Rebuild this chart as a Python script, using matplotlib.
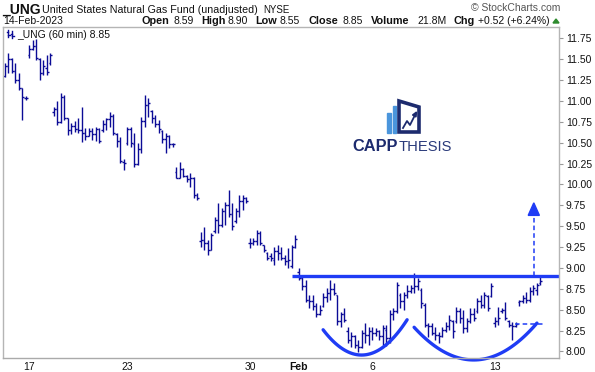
import matplotlib
matplotlib.use("Agg")
import matplotlib.pyplot as plt
from matplotlib.patches import Polygon, Rectangle
from matplotlib.lines import Line2D
import numpy as np

plt.rcParams['font.family'] = ['Liberation Sans', 'DejaVu Sans']

# _UNG 60 min bars, 7 bars per session
sessions = ['Jan 13', 'Jan 17', 'Jan 18', 'Jan 19', 'Jan 20', 'Jan 23', 'Jan 24',
            'Jan 25', 'Jan 26', 'Jan 27', 'Jan 30', 'Jan 31', 'Feb 1', 'Feb 2',
            'Feb 3', 'Feb 6', 'Feb 7', 'Feb 8', 'Feb 9', 'Feb 10', 'Feb 13', 'Feb 14']
tick_sessions = ['Jan 17', 'Jan 23', 'Jan 30', 'Feb 1', 'Feb 6', 'Feb 13']
tick_labels = ['17', '23', '30', 'Feb', '6', '13']

opens = [11.30, 11.42, 11.50, 11.36, 11.25, 11.16, 11.03,
         11.55, 11.62, 11.66, 11.50, 11.33, 11.40, 11.45,
         10.87, 10.90, 10.75, 11.05, 10.80, 10.65, 10.70,
         10.66, 10.65, 10.62, 10.58, 10.64, 10.60, 10.66,
         10.65, 10.72, 10.78, 10.82, 10.60, 10.52, 10.27,
         10.50, 10.66, 10.48, 10.24, 10.42, 10.76, 10.95,
         10.88, 10.80, 10.72, 10.64, 10.55, 10.58, 10.48,
         10.15, 10.08, 10.18, 10.10, 10.06, 10.08, 9.88,
         9.32, 9.33, 9.30, 9.22, 9.44, 9.58, 9.52,
         9.68, 9.75, 9.65, 9.56, 9.68, 9.80, 9.84,
         9.30, 9.30, 9.32, 9.42, 9.28, 9.18, 9.14,
         9.10, 9.20, 9.18, 9.12, 9.08, 9.02, 9.25,
         8.95, 8.88, 8.78, 8.62, 8.60, 8.55, 8.45,
         8.55, 8.65, 8.70, 8.75, 8.68, 8.36, 8.45,
         8.25, 8.14, 8.18, 8.08, 8.05, 8.22, 8.20,
         8.24, 8.22, 8.24, 8.18, 8.26, 8.16, 8.45,
         8.48, 8.68, 8.60, 8.68, 8.72, 8.76, 8.78,
         8.74, 8.56, 8.32, 8.30, 8.22, 8.20, 8.18,
         8.26, 8.30, 8.36, 8.36, 8.48, 8.40, 8.28,
         8.36, 8.45, 8.48, 8.60, 8.56, 8.66, 8.66,
         8.34, 8.36, 8.48, 8.50, 8.36, 8.32, 8.30,
         8.59, 8.60, 8.64, 8.62, 8.72, 8.74, 8.82]
highs = [11.46, 11.58, 11.52, 11.45, 11.34, 11.16, 11.06,
         11.67, 11.73, 11.74, 11.52, 11.49, 11.55, 11.57,
         10.93, 11.00, 11.10, 11.07, 10.80, 10.74, 10.76,
         10.80, 10.93, 10.68, 10.68, 10.68, 10.69, 10.68,
         10.77, 10.80, 10.87, 10.84, 10.62, 10.57, 10.30,
         10.69, 10.69, 10.62, 10.50, 10.81, 11.07, 11.04,
         10.89, 10.83, 10.77, 10.65, 10.62, 10.59, 10.50,
         10.21, 10.27, 10.20, 10.11, 10.14, 10.09, 9.90,
         9.43, 9.49, 9.34, 9.42, 9.61, 9.78, 9.72,
         9.79, 9.93, 9.78, 9.72, 9.87, 9.87, 9.85,
         9.36, 9.36, 9.46, 9.44, 9.28, 9.19, 9.18,
         9.25, 9.28, 9.25, 9.16, 9.24, 9.28, 9.40,
         9.00, 8.92, 8.86, 8.68, 8.68, 8.58, 8.56,
         8.70, 8.76, 8.86, 8.82, 8.68, 8.47, 8.52,
         8.29, 8.23, 8.20, 8.14, 8.26, 8.34, 8.29,
         8.29, 8.28, 8.26, 8.32, 8.32, 8.50, 8.52,
         8.83, 8.70, 8.71, 8.80, 8.80, 8.94, 8.88,
         8.76, 8.58, 8.34, 8.34, 8.29, 8.23, 8.29,
         8.35, 8.44, 8.38, 8.53, 8.52, 8.50, 8.40,
         8.52, 8.52, 8.64, 8.68, 8.71, 8.68, 8.82,
         8.41, 8.53, 8.52, 8.59, 8.38, 8.35, 8.35,
         8.62, 8.68, 8.71, 8.77, 8.80, 8.82, 8.90]
lows = [11.29, 11.34, 11.33, 11.21, 11.13, 10.77, 11.01,
        11.52, 11.61, 11.49, 11.25, 11.31, 11.31, 11.43,
        10.82, 10.71, 10.74, 10.77, 10.59, 10.60, 10.63,
        10.62, 10.51, 10.53, 10.58, 10.53, 10.52, 10.50,
        10.63, 10.65, 10.69, 10.59, 10.45, 10.26, 10.17,
        10.47, 10.45, 10.21, 10.23, 10.38, 10.69, 10.81,
        10.74, 10.69, 10.62, 10.50, 10.38, 10.44, 10.45,
        10.08, 10.08, 10.09, 10.03, 9.97, 9.84, 9.81,
        9.25, 9.22, 9.16, 9.22, 9.42, 9.42, 9.49,
        9.52, 9.61, 9.46, 9.54, 9.61, 9.69, 9.78,
        9.24, 9.28, 9.28, 9.28, 9.19, 9.10, 9.08,
        9.04, 9.10, 9.10, 9.04, 9.00, 9.00, 9.24,
        8.86, 8.74, 8.59, 8.52, 8.50, 8.41, 8.44,
        8.53, 8.59, 8.62, 8.68, 8.32, 8.29, 8.35,
        8.10, 8.05, 8.04, 7.99, 8.04, 8.10, 8.08,
        8.14, 8.19, 8.14, 8.08, 8.07, 8.10, 8.38,
        8.46, 8.52, 8.50, 8.64, 8.70, 8.70, 8.74,
        8.52, 8.29, 8.17, 8.20, 8.14, 8.10, 8.17,
        8.23, 8.26, 8.16, 8.34, 8.34, 8.22, 8.23,
        8.34, 8.36, 8.46, 8.52, 8.52, 8.48, 8.65,
        8.29, 8.32, 8.46, 8.38, 8.29, 8.14, 8.29,
        8.55, 8.58, 8.58, 8.59, 8.68, 8.68, 8.80]
closes = [11.42, 11.50, 11.36, 11.25, 11.16, 11.05, 11.04,
          11.62, 11.66, 11.52, 11.33, 11.42, 11.35, 11.55,
          10.90, 10.75, 11.05, 10.80, 10.65, 10.70, 10.66,
          10.65, 10.62, 10.58, 10.64, 10.60, 10.66, 10.52,
          10.72, 10.78, 10.82, 10.62, 10.52, 10.28, 10.26,
          10.66, 10.50, 10.24, 10.42, 10.76, 10.95, 10.98,
          10.80, 10.72, 10.66, 10.55, 10.58, 10.48, 10.49,
          10.08, 10.18, 10.10, 10.06, 10.08, 9.88, 9.84,
          9.33, 9.30, 9.22, 9.40, 9.58, 9.52, 9.68,
          9.75, 9.65, 9.50, 9.68, 9.80, 9.84, 9.80,
          9.30, 9.32, 9.42, 9.30, 9.22, 9.12, 9.12,
          9.20, 9.18, 9.12, 9.08, 9.10, 9.25, 9.35,
          8.88, 8.78, 8.62, 8.60, 8.55, 8.45, 8.50,
          8.65, 8.70, 8.75, 8.70, 8.36, 8.45, 8.38,
          8.14, 8.18, 8.08, 8.05, 8.22, 8.20, 8.24,
          8.22, 8.24, 8.18, 8.28, 8.16, 8.45, 8.48,
          8.80, 8.60, 8.68, 8.72, 8.76, 8.78, 8.85,
          8.58, 8.32, 8.30, 8.22, 8.20, 8.18, 8.26,
          8.30, 8.38, 8.24, 8.48, 8.40, 8.28, 8.36,
          8.45, 8.40, 8.60, 8.56, 8.68, 8.52, 8.78,
          8.36, 8.40, 8.50, 8.40, 8.32, 8.30, 8.33,
          8.60, 8.64, 8.62, 8.72, 8.76, 8.80, 8.85]

# pattern drawn on the chart (bar index, price)
neckline = 8.90
left_cup = [(90.9, 8.26), (102.9, 7.96), (114.9, 8.38)]
right_cup = [(116.9, 8.29), (134.9, 7.90), (152.0, 8.34)]
handle_level = 8.33
target = 9.78

BAR = '#0b0b96'
MARK = '#1f3cf5'
W, H = 595, 372

fig = plt.figure(figsize=(W / 100, H / 100), dpi=100)
ax = fig.add_axes([3 / W, 14 / H, 556 / W, 331 / H])

x = np.arange(len(closes))
ax.vlines(x, lows, highs, color=BAR, lw=1.0)
ax.hlines(opens, x - 0.45, x, color=BAR, lw=1.0)
ax.hlines(closes, x, x + 0.45, color=BAR, lw=1.0)

# neckline + measured move
ax.plot([82, 158.5], [neckline, neckline], color=MARK, lw=2.4, solid_capstyle='butt')
for pts in (left_cup, right_cup):
    px = [p[0] for p in pts]
    py = [p[1] for p in pts]
    coef = np.polyfit(px, py, 2)
    xs = np.linspace(px[0], px[-1], 60)
    ax.plot(xs, np.polyval(coef, xs), color=MARK, lw=2.4, clip_on=False,
            solid_capstyle='round')
ax.plot([145.7, 153.7], [handle_level, handle_level], color=MARK, lw=1.1, ls=(0, (3, 2)))
ax.plot([151.1, 151.1], [neckline, target - 0.15], color=MARK, lw=1.1, ls=(0, (3, 2)))
ax.add_patch(Polygon([(149.5, target - 0.15), (152.7, target - 0.15), (151.1, target)],
                     closed=True, color=MARK))

ax.set_xlim(-0.57, 158.3)
ax.set_ylim(7.922, 11.886)

yt = np.arange(8.0, 11.76, 0.25)
ax.yaxis.tick_right()
ax.set_yticks(yt)
ax.set_yticklabels([f"{v:.2f}" for v in yt])
ax.tick_params(axis='y', labelsize=7.5, length=3, color='#999999', pad=2, labelcolor='#111111')

xt = [sessions.index(s) * 7 for s in tick_sessions]
ax.set_xticks(xt)
ax.set_xticklabels(tick_labels)
ax.tick_params(axis='x', labelsize=7.5, length=0, pad=3, labelcolor='#111111')
ax.get_xticklabels()[3].set_fontweight('bold')

for side in ('left', 'top', 'right'):
    ax.spines[side].set_color('#b5b5b5')
    ax.spines[side].set_linewidth(1.0)
ax.spines['bottom'].set_color('#aaaaaa')
ax.spines['bottom'].set_linestyle((0, (1, 1)))
ax.spines['bottom'].set_linewidth(1.0)


def fx(v):
    return v / W


def fy(v):
    return 1 - v / H


# header
fig.text(fx(2), fy(14), '_UNG', fontsize=10, fontweight='bold', color='#111111')
fig.text(fx(42), fy(13), 'United States Natural Gas Fund (unadjusted)', fontsize=7.7, color='#111111')
fig.text(fx(263), fy(13), 'NYSE', fontsize=7.0, color='#111111')
fig.text(fx(560), fy(11), '\u00a9 StockCharts.com', fontsize=7.5, color='#555555', ha='right')
fig.text(fx(3), fy(24.5), '14-Feb-2023', fontsize=7.5, color='#111111')

quote = [(142, 'Open', True), (173, '8.59', False), (201, 'High', True), (227, '8.90', False),
         (255, 'Low', True), (280, '8.55', False), (308, 'Close', True), (343, '8.85', False),
         (371, 'Volume', True), (417, '21.8M', False), (453, 'Chg', True),
         (478, '+0.52 (+6.24%)', False)]
for qx, s, b in quote:
    fig.text(fx(qx), fy(24.5), s, fontsize=7.8 if b else 7.5,
             fontweight='bold' if b else 'normal', color='#111111')
fig.patches.append(Polygon([(fx(553), fy(23)), (fx(559), fy(23)), (fx(556), fy(19))],
                           closed=True, color='#2e8b2e', transform=fig.transFigure))

# legend
for lx, ly0, ly1, o, c in [(8, 30, 37, 32, 35), (12, 31, 38, 34, 36)]:
    fig.lines.append(Line2D([fx(lx), fx(lx)], [fy(ly0), fy(ly1)], color=BAR, lw=1,
                            transform=fig.transFigure))
    fig.lines.append(Line2D([fx(lx - 1.5), fx(lx)], [fy(o), fy(o)], color=BAR, lw=1,
                            transform=fig.transFigure))
    fig.lines.append(Line2D([fx(lx), fx(lx + 1.5)], [fy(c), fy(c)], color=BAR, lw=1,
                            transform=fig.transFigure))
fig.text(fx(17), fy(37.5), '_UNG (60 min) 8.85', fontsize=7.5, color='#111111')

# CAPPTHESIS logo
NAVY = '#1d2b6e'
LIGHT = '#4a95dc'
fig.patches.append(Rectangle((fx(387), fy(133)), fx(3.5), (133 - 113) / H, color=LIGHT,
                             transform=fig.transFigure))
fig.patches.append(Rectangle((fx(392.5), fy(133)), fx(3.5), (133 - 106) / H, color=LIGHT,
                             transform=fig.transFigure))
fig.patches.append(Polygon([(fx(399), fy(101)), (fx(419), fy(107)), (fx(419), fy(132)),
                            (fx(399), fy(132))], closed=True, fill=False, ec=NAVY, lw=2.6,
                           transform=fig.transFigure))
fig.lines.append(Line2D([fx(403), fx(407), fx(410), fx(415)], [fy(128), fy(121), fy(125), fy(115)],
                        color=NAVY, lw=1.3, transform=fig.transFigure))
fig.patches.append(Polygon([(fx(412.5), fy(115)), (fx(416.5), fy(112)), (fx(416), fy(117))],
                           closed=True, color=NAVY, transform=fig.transFigure))
fig.text(fx(352), fy(151), 'CAPP', fontsize=11.8, fontweight='bold', color=NAVY)
fig.text(fx(399), fy(151), 'THESIS', fontsize=10.6, color='#2a3a7a')

fig.savefig('out.png', dpi=100)
